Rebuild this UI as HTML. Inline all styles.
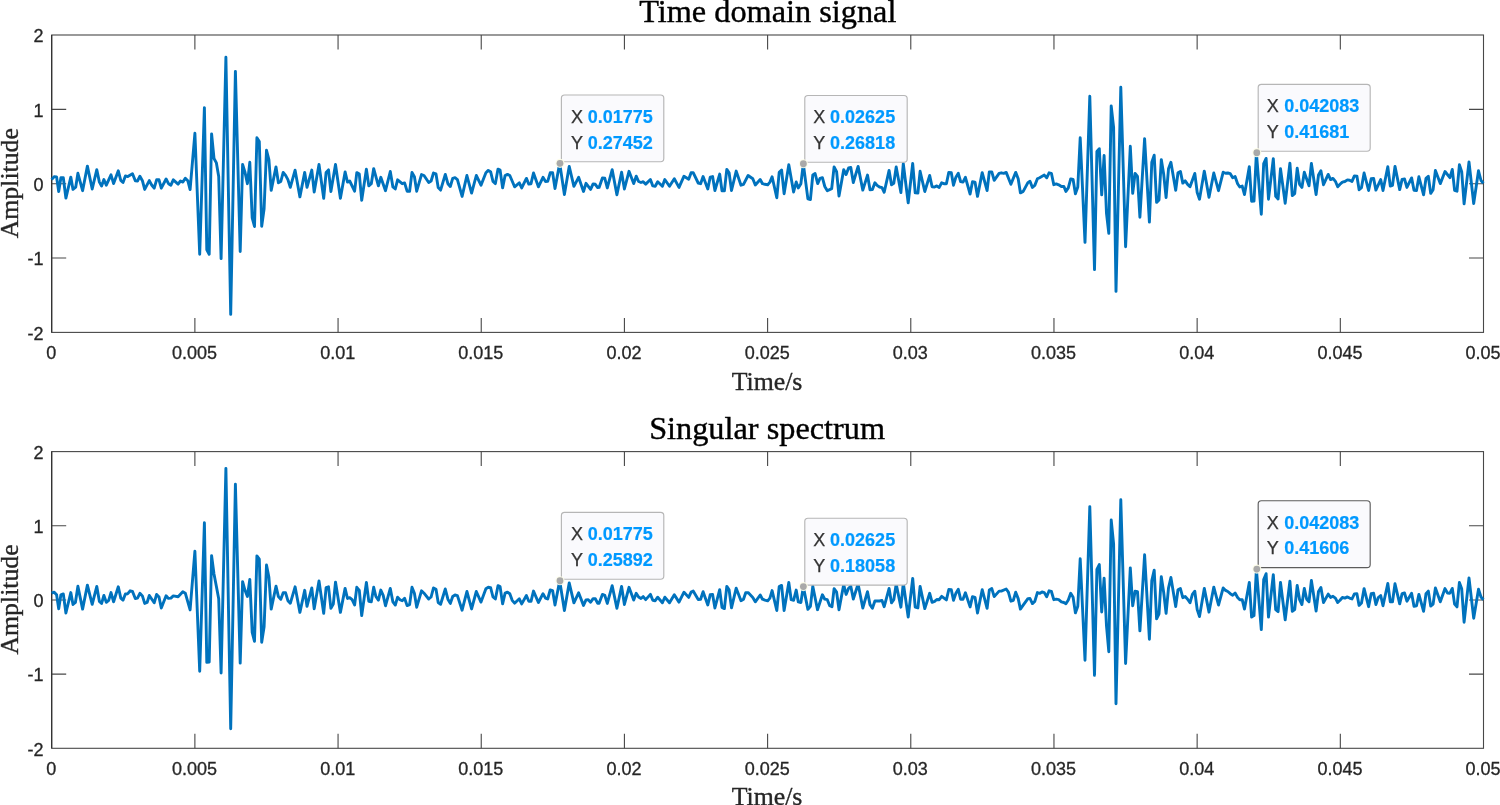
<!DOCTYPE html>
<html lang="en"><head><meta charset="utf-8"><title>Time domain signal / Singular spectrum</title>
<style>html,body{margin:0;padding:0;background:#fff;}body{width:1500px;height:805px;overflow:hidden;}svg{display:block;}.tk{font-family:"Liberation Sans",Arial,Helvetica,sans-serif;font-size:18px;fill:#262626;stroke:#262626;stroke-width:0.3px;}.lb{font-family:"Liberation Serif","Times New Roman",Times,serif;font-size:25.8px;fill:#262626;stroke:#262626;stroke-width:0.35px;}.tt{font-family:"Liberation Serif","Times New Roman",Times,serif;font-size:32.3px;fill:#000;stroke:#000;stroke-width:0.4px;}.dk{font-family:"Liberation Sans",Arial,Helvetica,sans-serif;font-size:18px;fill:#333;stroke:#333;stroke-width:0.25px;}.dv{font-family:"Liberation Sans",Arial,Helvetica,sans-serif;font-size:18px;fill:#0099ff;font-weight:bold;stroke:#0099ff;stroke-width:0.2px;}</style></head><body>
<svg width="1500" height="805" viewBox="0 0 1500 805">
<rect width="1500" height="805" fill="#fff"/>
<g id="axes1">
<rect x="51.70" y="35.00" width="1431.80" height="297.40" fill="none" stroke="#484848" stroke-width="1.1"/>
<path d="M194.88 332.40v-14.5M194.88 35.00v14.5M338.06 332.40v-14.5M338.06 35.00v14.5M481.24 332.40v-14.5M481.24 35.00v14.5M624.42 332.40v-14.5M624.42 35.00v14.5M767.60 332.40v-14.5M767.60 35.00v14.5M910.78 332.40v-14.5M910.78 35.00v14.5M1053.96 332.40v-14.5M1053.96 35.00v14.5M1197.14 332.40v-14.5M1197.14 35.00v14.5M1340.32 332.40v-14.5M1340.32 35.00v14.5M51.70 258.05h14.5M1483.50 258.05h-14.5M51.70 183.70h14.5M1483.50 183.70h-14.5M51.70 109.35h14.5M1483.50 109.35h-14.5" fill="none" stroke="#484848" stroke-width="1.1"/>
<path d="M51.70 35.00V332.40" fill="none" stroke="#2c2c2c" stroke-width="1.1"/>
<path d="M51.6 179.6 L54.2 176.6 L56.6 177.0 L58.7 191.5 L60.9 177.7 L63.3 177.7 L65.9 198.1 L70.8 177.1 L73.0 189.4 L75.7 187.2 L77.9 173.3 L82.6 190.7 L87.4 166.1 L92.2 189.0 L96.8 169.7 L99.4 182.1 L101.6 186.1 L103.9 179.5 L106.3 185.2 L111.0 174.8 L113.6 183.6 L118.3 170.8 L120.8 180.5 L123.0 182.5 L125.4 175.9 L127.8 176.6 L132.5 173.7 L135.3 180.8 L137.5 181.0 L139.9 176.2 L142.4 180.7 L144.7 189.4 L149.3 180.6 L151.7 185.0 L154.2 188.2 L156.6 179.8 L159.0 179.8 L161.3 188.2 L166.1 179.0 L168.5 183.7 L170.9 185.2 L173.3 179.8 L178.1 184.1 L180.5 181.0 L182.9 182.1 L185.3 178.2 L187.8 180.7 L190.1 189.6 L194.9 133.3 L199.7 254.3 L204.4 107.6 L206.8 249.8 L209.2 254.3 L211.6 133.9 L214.0 158.5 L216.4 162.9 L218.7 176.5 L221.1 258.6 L225.9 57.3 L230.7 314.4 L235.4 71.4 L240.2 251.5 L242.6 164.5 L245.0 172.2 L247.4 183.7 L249.8 162.3 L252.2 217.9 L254.5 226.5 L256.9 137.8 L259.3 141.5 L261.7 226.3 L264.1 208.8 L266.5 150.3 L268.9 159.6 L271.2 190.4 L276.0 166.9 L278.4 182.8 L280.8 181.5 L283.2 172.4 L285.6 175.4 L287.9 179.6 L290.3 187.3 L295.1 170.2 L299.9 196.9 L304.7 172.4 L307.0 187.3 L311.8 170.1 L314.2 192.0 L319.0 164.5 L323.7 198.3 L326.1 172.5 L328.5 169.9 L330.9 191.5 L335.5 164.5 L340.4 198.3 L345.1 171.9 L347.5 182.1 L349.7 181.0 L354.6 191.2 L356.8 172.6 L359.3 174.1 L361.7 200.3 L366.4 169.1 L368.8 185.8 L371.3 183.7 L373.7 168.6 L378.4 185.8 L380.8 177.3 L385.5 190.7 L390.3 171.5 L392.9 187.0 L395.3 189.0 L397.6 179.8 L402.2 183.7 L404.6 182.9 L407.1 191.2 L409.6 191.4 L412.0 172.4 L414.4 176.6 L416.7 191.2 L421.5 174.6 L424.0 175.5 L428.7 182.5 L431.1 181.0 L433.5 173.0 L436.0 173.9 L438.2 187.6 L440.6 190.1 L445.3 174.4 L447.9 183.7 L450.3 186.5 L452.7 178.3 L455.0 177.7 L457.4 179.6 L462.1 196.4 L466.9 175.5 L471.6 193.1 L476.3 175.5 L481.0 185.2 L485.9 172.8 L488.3 170.4 L490.6 171.7 L493.0 181.5 L495.4 183.6 L498.0 169.1 L500.1 170.1 L502.6 187.9 L505.1 175.5 L507.5 174.4 L509.8 175.5 L514.6 186.8 L519.3 182.8 L521.7 187.9 L526.4 178.4 L528.8 184.1 L531.0 183.7 L533.5 173.0 L538.4 186.8 L543.0 177.3 L545.5 181.5 L547.7 181.4 L550.2 172.8 L552.6 172.6 L555.0 188.5 L559.7 163.3 L564.4 194.5 L569.2 166.4 L573.9 186.3 L578.6 177.3 L583.5 191.5 L586.0 183.3 L590.6 189.4 L593.1 183.9 L595.3 184.3 L597.7 187.6 L599.1 187.4 L602.4 177.9 L604.8 178.3 L607.3 187.9 L612.2 169.7 L616.9 194.8 L621.6 172.2 L624.4 189.0 L629.0 171.3 L633.7 183.6 L636.2 176.2 L638.6 181.5 L641.0 182.5 L643.2 181.7 L645.7 184.1 L650.4 179.5 L652.8 185.9 L655.2 186.3 L657.7 181.7 L662.4 186.3 L664.8 179.5 L669.5 186.3 L674.3 178.8 L679.0 187.4 L684.0 176.2 L688.7 179.2 L691.1 172.8 L693.2 172.6 L698.2 183.0 L700.6 183.7 L703.1 176.6 L707.8 189.0 L710.2 177.2 L712.6 176.6 L714.9 190.5 L719.7 174.1 L722.0 190.8 L724.4 190.9 L726.8 169.4 L729.1 172.8 L731.5 190.5 L736.2 171.1 L741.0 185.2 L743.5 184.3 L748.1 175.5 L752.8 178.8 L755.3 185.0 L760.2 179.5 L762.5 183.7 L764.9 184.3 L767.7 184.8 L769.9 182.1 L772.1 176.8 L776.8 197.8 L779.2 172.3 L781.6 170.0 L784.1 193.7 L788.8 164.8 L793.6 192.0 L796.2 182.0 L798.3 187.9 L800.9 183.7 L803.3 163.8 L807.9 198.9 L810.4 199.6 L812.8 175.0 L815.1 173.5 L817.7 183.6 L820.0 178.4 L822.4 177.7 L824.8 186.5 L827.3 190.7 L831.7 188.6 L834.1 166.9 L836.6 171.7 L839.0 196.1 L843.7 169.7 L846.1 174.5 L848.6 167.9 L850.8 167.5 L853.3 182.5 L858.1 166.4 L862.8 190.1 L867.5 175.1 L870.0 189.7 L872.4 189.6 L874.9 182.8 L877.1 185.4 L879.5 187.0 L882.0 187.6 L884.2 192.3 L889.1 170.4 L891.5 184.7 L893.8 183.2 L896.2 166.9 L900.9 192.6 L903.3 163.7 L908.2 202.9 L912.7 163.5 L915.2 192.9 L917.9 193.0 L920.1 171.3 L924.8 191.5 L929.7 175.5 L932.1 186.8 L934.6 187.0 L936.8 185.9 L939.2 187.4 L941.7 182.8 L943.9 183.7 L946.4 183.7 L948.8 172.4 L951.3 172.8 L953.5 185.2 L955.9 177.2 L958.3 173.3 L960.6 181.5 L963.0 182.1 L965.4 177.3 L970.1 194.0 L972.5 181.7 L975.0 182.1 L977.5 196.4 L982.2 172.6 L987.1 190.5 L989.3 171.9 L991.8 171.9 L994.2 180.3 L999.1 173.3 L1001.3 172.8 L1003.7 173.3 L1006.2 172.4 L1010.9 184.3 L1015.7 172.4 L1018.2 178.8 L1020.4 192.9 L1023.2 191.4 L1027.9 182.6 L1030.0 181.2 L1032.4 187.4 L1034.8 185.4 L1037.4 178.8 L1039.6 177.7 L1044.3 175.1 L1046.7 177.8 L1049.1 172.8 L1051.4 173.3 L1053.8 184.7 L1056.3 183.9 L1058.7 184.8 L1061.4 186.5 L1063.9 186.5 L1065.9 191.4 L1068.3 187.9 L1070.7 178.9 L1073.1 179.5 L1075.4 193.7 L1077.8 186.9 L1080.2 137.8 L1085.0 242.4 L1089.8 96.3 L1094.5 269.6 L1096.9 151.4 L1099.3 148.7 L1101.7 194.8 L1104.1 155.5 L1106.5 213.4 L1108.8 233.4 L1111.2 105.9 L1113.6 127.3 L1116.0 291.4 L1120.8 87.3 L1125.6 246.7 L1130.3 146.2 L1132.7 193.4 L1135.1 173.4 L1137.5 176.5 L1139.9 217.2 L1144.6 138.7 L1149.4 222.1 L1151.8 162.3 L1154.2 155.2 L1156.6 202.4 L1159.0 200.0 L1161.3 159.6 L1163.7 174.3 L1166.1 197.5 L1168.5 168.8 L1170.9 162.3 L1175.7 190.2 L1178.0 172.7 L1180.4 171.4 L1182.8 183.1 L1185.2 180.9 L1187.6 184.4 L1190.0 186.7 L1194.8 173.4 L1197.2 192.5 L1199.5 199.2 L1204.3 171.1 L1209.0 197.2 L1213.8 173.0 L1218.5 190.7 L1223.2 172.2 L1225.6 173.3 L1227.8 173.0 L1230.3 173.7 L1232.7 177.7 L1235.1 176.6 L1237.6 183.7 L1239.8 187.0 L1242.2 186.1 L1244.5 194.5 L1249.3 166.7 L1251.6 201.2 L1254.0 201.1 L1256.4 152.7 L1261.3 214.2 L1263.7 163.5 L1266.1 158.4 L1268.5 199.2 L1273.3 158.7 L1275.7 196.3 L1278.1 198.9 L1280.5 168.6 L1285.2 203.2 L1289.9 163.1 L1292.3 195.6 L1294.7 193.6 L1297.2 168.3 L1299.6 184.3 L1301.9 187.4 L1304.3 172.2 L1309.0 185.8 L1311.4 163.5 L1316.1 194.5 L1318.5 175.0 L1320.9 170.8 L1323.5 184.7 L1328.2 174.4 L1330.6 179.6 L1333.0 178.4 L1335.4 181.3 L1337.7 186.8 L1340.0 184.3 L1342.4 182.1 L1344.9 181.5 L1347.4 179.9 L1349.6 180.2 L1352.0 181.4 L1354.4 175.9 L1356.9 176.1 L1359.1 189.8 L1361.5 187.6 L1364.1 173.0 L1368.6 190.5 L1371.2 178.8 L1373.6 178.4 L1375.9 190.1 L1380.7 179.5 L1383.0 190.5 L1387.8 166.7 L1390.3 186.1 L1392.5 185.4 L1395.0 166.4 L1399.7 189.6 L1402.1 179.4 L1404.5 179.0 L1406.9 187.4 L1411.6 177.9 L1414.0 190.3 L1416.5 190.5 L1418.9 176.8 L1423.6 194.8 L1426.0 178.3 L1428.3 176.2 L1430.7 193.4 L1433.1 189.7 L1435.4 170.4 L1440.3 183.6 L1445.0 171.5 L1449.9 177.6 L1452.3 169.4 L1454.6 190.3 L1457.0 191.2 L1459.4 164.8 L1461.7 171.7 L1464.1 203.8 L1469.0 162.0 L1473.7 203.6 L1478.5 170.8 L1481.0 180.5 L1483.4 183.2" fill="none" stroke="#0072bd" stroke-width="2.9" stroke-linejoin="round" stroke-linecap="butt"/>
<text class="tk" x="51.30" y="359.00" text-anchor="middle">0</text>
<text class="tk" x="194.48" y="359.00" text-anchor="middle">0.005</text>
<text class="tk" x="337.66" y="359.00" text-anchor="middle">0.01</text>
<text class="tk" x="480.84" y="359.00" text-anchor="middle">0.015</text>
<text class="tk" x="624.02" y="359.00" text-anchor="middle">0.02</text>
<text class="tk" x="767.20" y="359.00" text-anchor="middle">0.025</text>
<text class="tk" x="910.38" y="359.00" text-anchor="middle">0.03</text>
<text class="tk" x="1053.56" y="359.00" text-anchor="middle">0.035</text>
<text class="tk" x="1196.74" y="359.00" text-anchor="middle">0.04</text>
<text class="tk" x="1339.92" y="359.00" text-anchor="middle">0.045</text>
<text class="tk" x="1483.10" y="359.00" text-anchor="middle">0.05</text>
<text class="tk" x="43.60" y="339.70" text-anchor="end">-2</text>
<text class="tk" x="43.60" y="265.35" text-anchor="end">-1</text>
<text class="tk" x="43.60" y="191.00" text-anchor="end">0</text>
<text class="tk" x="43.60" y="116.65" text-anchor="end">1</text>
<text class="tk" x="43.60" y="42.30" text-anchor="end">2</text>
<text class="lb" x="767.00" y="389.90" text-anchor="middle">Time/s</text>
<text class="lb" transform="translate(18.1 183.20) rotate(-90)" text-anchor="middle">Amplitude</text>
<text class="tt" x="767.80" y="22.40" text-anchor="middle">Time domain signal</text>
</g>
<g id="axes2">
<rect x="51.70" y="451.60" width="1431.80" height="296.70" fill="none" stroke="#484848" stroke-width="1.1"/>
<path d="M194.88 748.30v-14.5M194.88 451.60v14.5M338.06 748.30v-14.5M338.06 451.60v14.5M481.24 748.30v-14.5M481.24 451.60v14.5M624.42 748.30v-14.5M624.42 451.60v14.5M767.60 748.30v-14.5M767.60 451.60v14.5M910.78 748.30v-14.5M910.78 451.60v14.5M1053.96 748.30v-14.5M1053.96 451.60v14.5M1197.14 748.30v-14.5M1197.14 451.60v14.5M1340.32 748.30v-14.5M1340.32 451.60v14.5M51.70 674.12h14.5M1483.50 674.12h-14.5M51.70 599.95h14.5M1483.50 599.95h-14.5M51.70 525.77h14.5M1483.50 525.77h-14.5" fill="none" stroke="#484848" stroke-width="1.1"/>
<path d="M51.70 451.60V748.30" fill="none" stroke="#2c2c2c" stroke-width="1.1"/>
<path d="M51.6 593.2 L54.2 592.2 L56.6 594.8 L58.7 608.9 L60.9 594.8 L63.3 593.9 L65.9 613.0 L70.8 592.6 L73.0 604.5 L75.4 602.5 L77.9 586.2 L82.6 609.1 L87.4 585.1 L92.2 604.3 L96.8 586.4 L99.4 601.4 L101.6 603.4 L103.9 595.5 L106.3 602.3 L108.7 600.3 L111.0 592.6 L113.6 601.8 L118.3 586.8 L120.8 598.1 L123.0 600.1 L125.4 594.0 L127.8 593.7 L130.1 590.8 L132.5 591.5 L135.3 598.5 L137.5 598.1 L139.9 593.3 L142.4 595.9 L144.7 603.4 L147.1 602.5 L149.3 595.5 L154.2 602.8 L156.6 594.4 L159.0 597.0 L161.3 608.0 L166.1 595.8 L168.5 598.4 L170.9 598.1 L173.3 595.9 L178.1 596.7 L182.8 591.7 L185.3 593.2 L190.1 609.9 L194.9 551.2 L199.7 671.3 L204.4 522.7 L206.8 662.4 L209.2 662.0 L211.6 555.6 L214.0 574.0 L216.4 586.6 L218.7 598.8 L221.1 673.0 L225.9 468.4 L230.7 728.7 L235.4 484.2 L240.2 663.1 L242.6 581.6 L245.0 590.3 L247.4 596.5 L249.8 579.4 L252.2 632.4 L254.5 641.3 L256.9 555.9 L259.3 559.2 L261.7 642.3 L264.1 626.9 L266.5 565.0 L268.9 577.3 L271.2 609.1 L276.0 586.2 L278.4 596.6 L280.8 599.3 L283.2 592.7 L285.6 592.8 L287.9 600.7 L290.3 603.3 L295.1 586.8 L299.9 612.4 L304.7 590.3 L307.0 606.4 L311.8 587.9 L314.2 608.8 L319.0 581.0 L323.7 613.4 L326.1 587.6 L328.5 586.8 L330.9 608.3 L333.3 604.1 L335.5 582.1 L340.4 612.4 L345.1 588.4 L347.5 598.5 L349.7 597.7 L352.1 599.7 L354.6 605.0 L356.8 587.3 L359.3 590.4 L361.7 615.6 L366.4 582.4 L368.8 601.4 L371.3 601.8 L373.7 587.3 L375.9 596.5 L378.4 600.1 L380.8 590.1 L383.2 595.4 L385.5 605.8 L390.3 588.4 L392.9 601.9 L395.3 605.0 L397.6 597.2 L400.0 599.7 L402.2 600.7 L404.6 598.3 L407.1 605.6 L409.6 604.6 L412.0 587.3 L414.4 593.2 L416.7 607.2 L421.5 590.8 L424.0 593.2 L428.7 599.0 L431.1 597.0 L433.5 587.9 L436.0 589.3 L438.2 602.5 L440.6 604.3 L445.3 589.0 L447.9 599.2 L450.3 603.4 L452.7 596.5 L455.0 595.0 L457.4 595.6 L459.8 603.0 L462.1 610.2 L466.9 591.5 L471.6 608.9 L476.3 591.5 L481.0 602.1 L485.9 588.8 L488.3 587.3 L490.6 587.7 L493.0 597.0 L495.4 599.0 L498.0 585.7 L500.1 586.6 L502.6 603.9 L505.1 593.2 L507.5 592.2 L509.8 593.7 L512.2 600.3 L514.6 603.2 L519.3 598.8 L521.7 603.9 L526.4 595.5 L528.8 601.2 L531.0 601.4 L533.5 591.1 L538.4 602.5 L543.0 593.7 L545.5 598.1 L547.7 599.0 L550.2 589.9 L552.6 590.6 L555.0 605.0 L559.7 580.7 L564.4 610.5 L569.2 582.9 L573.9 602.8 L578.6 592.8 L583.5 605.4 L586.0 599.9 L588.2 599.7 L590.6 602.3 L593.1 598.6 L595.3 598.8 L597.7 603.2 L599.1 603.2 L602.4 594.4 L604.8 595.4 L607.3 603.4 L612.2 585.7 L616.9 608.3 L621.6 586.4 L624.4 604.5 L629.0 587.3 L633.7 600.1 L636.2 593.3 L638.6 597.0 L641.0 598.5 L643.2 596.6 L645.7 599.6 L650.4 594.4 L652.8 600.3 L655.2 600.7 L657.7 597.2 L662.4 602.8 L664.8 597.2 L669.5 602.8 L674.3 594.8 L679.0 602.1 L684.0 592.2 L688.7 597.4 L691.1 592.1 L693.2 591.1 L698.2 599.6 L700.6 599.2 L703.1 591.7 L707.8 605.0 L710.2 594.8 L712.6 594.4 L714.9 608.0 L719.7 589.7 L722.0 607.4 L724.4 608.6 L726.8 586.4 L729.1 589.9 L731.5 607.8 L736.2 588.2 L741.0 600.7 L743.5 599.2 L745.7 592.8 L748.1 592.6 L752.8 597.5 L755.3 601.8 L760.2 595.0 L762.5 599.2 L764.9 600.1 L767.7 600.8 L769.9 598.1 L772.1 590.6 L776.8 610.5 L779.2 586.6 L781.6 585.4 L784.1 610.5 L788.8 582.4 L791.2 599.7 L793.6 600.3 L796.2 590.1 L798.3 601.9 L800.9 602.5 L803.3 586.6 L807.9 609.4 L810.4 606.3 L812.8 586.2 L817.5 609.7 L822.4 594.8 L824.8 599.2 L827.3 599.7 L829.7 605.7 L832.0 606.7 L834.1 588.6 L836.6 592.1 L839.0 609.7 L843.7 584.6 L846.1 594.4 L848.6 588.3 L850.8 586.2 L853.3 599.0 L858.1 584.0 L862.8 608.0 L867.5 591.7 L870.0 604.6 L872.4 608.3 L874.9 601.0 L877.1 601.0 L879.5 601.0 L882.0 600.4 L884.2 606.7 L889.1 588.4 L891.5 602.8 L893.8 599.7 L896.2 584.0 L900.9 607.2 L903.3 582.9 L908.2 617.1 L912.7 578.4 L915.2 607.2 L917.9 607.9 L920.1 586.4 L924.8 608.6 L929.7 593.3 L932.1 602.3 L934.6 601.4 L936.8 599.5 L939.2 599.7 L941.7 596.3 L946.4 599.9 L948.8 589.5 L951.3 589.7 L953.5 600.3 L955.9 593.2 L958.3 589.3 L960.6 599.2 L963.0 599.2 L965.4 592.8 L970.1 606.9 L972.5 596.6 L975.0 597.3 L977.5 613.0 L982.2 589.7 L987.1 608.3 L989.3 590.1 L991.8 588.6 L994.2 596.6 L999.1 591.1 L1001.3 591.1 L1006.2 589.0 L1008.4 592.1 L1010.9 601.2 L1013.3 600.3 L1015.7 592.2 L1018.2 598.6 L1020.4 609.1 L1023.2 605.2 L1027.9 598.6 L1030.0 598.5 L1032.4 603.6 L1034.8 601.4 L1037.4 592.6 L1039.6 593.4 L1042.0 591.9 L1044.3 592.6 L1046.7 596.8 L1049.1 590.8 L1051.4 591.5 L1053.8 599.7 L1056.3 599.2 L1058.7 599.7 L1061.4 601.9 L1063.9 602.5 L1065.9 603.7 L1068.3 600.0 L1070.7 593.3 L1073.1 597.3 L1075.4 612.9 L1077.8 606.2 L1080.2 558.8 L1085.0 660.2 L1089.8 506.6 L1094.5 675.4 L1096.9 569.5 L1099.3 564.6 L1101.7 612.0 L1104.1 578.1 L1106.5 625.9 L1108.8 651.7 L1111.2 520.0 L1113.6 543.9 L1116.0 703.8 L1120.8 499.8 L1125.6 663.5 L1130.3 567.9 L1132.7 605.8 L1135.1 591.2 L1137.5 591.7 L1139.9 630.9 L1144.6 554.8 L1149.4 639.2 L1151.8 580.5 L1154.2 570.1 L1156.6 618.9 L1159.0 613.8 L1161.3 576.7 L1163.7 592.5 L1166.1 613.4 L1168.5 588.1 L1170.9 577.5 L1175.7 606.6 L1178.0 589.8 L1180.4 588.5 L1182.8 597.7 L1185.2 596.5 L1187.6 599.2 L1190.0 602.8 L1192.4 594.4 L1194.8 591.2 L1197.2 609.6 L1199.5 616.5 L1204.3 588.4 L1209.0 612.1 L1213.8 587.1 L1218.5 605.0 L1223.2 587.9 L1225.6 590.4 L1227.8 591.5 L1230.3 593.7 L1232.7 595.2 L1235.1 593.0 L1237.6 597.5 L1239.8 599.7 L1242.2 599.7 L1244.5 609.1 L1249.3 582.4 L1251.6 617.1 L1254.0 615.6 L1256.4 569.1 L1261.3 629.6 L1263.7 579.5 L1266.1 573.7 L1268.5 617.1 L1273.3 574.7 L1275.7 609.6 L1278.1 611.6 L1280.5 582.4 L1285.2 619.8 L1289.9 581.3 L1292.3 611.3 L1294.7 609.6 L1297.2 585.4 L1299.6 599.7 L1301.9 604.5 L1304.3 588.4 L1306.7 599.2 L1309.0 601.8 L1311.4 580.5 L1316.1 611.0 L1318.5 591.5 L1320.9 587.5 L1323.5 602.5 L1328.2 594.1 L1330.6 597.4 L1333.0 596.3 L1335.4 598.1 L1337.7 602.5 L1340.0 600.3 L1342.4 597.5 L1344.9 598.1 L1347.4 596.9 L1349.6 598.1 L1352.0 599.0 L1354.4 593.9 L1356.9 593.7 L1359.1 605.4 L1361.5 603.0 L1364.1 588.6 L1368.6 606.7 L1371.2 593.7 L1373.6 593.3 L1375.9 604.5 L1378.3 597.5 L1380.7 595.5 L1383.0 605.8 L1387.8 583.5 L1390.3 601.9 L1392.5 601.8 L1395.0 583.8 L1399.7 603.9 L1402.1 593.7 L1404.5 593.0 L1406.9 601.2 L1411.6 593.3 L1414.0 606.3 L1416.5 605.8 L1418.9 594.4 L1423.6 611.3 L1426.0 593.7 L1428.3 591.1 L1430.7 606.1 L1433.1 604.1 L1435.4 587.9 L1440.3 601.8 L1445.0 588.6 L1447.5 593.0 L1449.9 593.2 L1452.3 588.4 L1454.6 604.1 L1457.0 606.9 L1459.4 582.4 L1461.7 588.8 L1464.1 622.2 L1469.0 578.0 L1473.7 618.2 L1478.5 589.3 L1481.0 597.0 L1483.4 599.7" fill="none" stroke="#0072bd" stroke-width="2.9" stroke-linejoin="round" stroke-linecap="butt"/>
<text class="tk" x="51.30" y="774.90" text-anchor="middle">0</text>
<text class="tk" x="194.48" y="774.90" text-anchor="middle">0.005</text>
<text class="tk" x="337.66" y="774.90" text-anchor="middle">0.01</text>
<text class="tk" x="480.84" y="774.90" text-anchor="middle">0.015</text>
<text class="tk" x="624.02" y="774.90" text-anchor="middle">0.02</text>
<text class="tk" x="767.20" y="774.90" text-anchor="middle">0.025</text>
<text class="tk" x="910.38" y="774.90" text-anchor="middle">0.03</text>
<text class="tk" x="1053.56" y="774.90" text-anchor="middle">0.035</text>
<text class="tk" x="1196.74" y="774.90" text-anchor="middle">0.04</text>
<text class="tk" x="1339.92" y="774.90" text-anchor="middle">0.045</text>
<text class="tk" x="1483.10" y="774.90" text-anchor="middle">0.05</text>
<text class="tk" x="43.60" y="755.60" text-anchor="end">-2</text>
<text class="tk" x="43.60" y="681.42" text-anchor="end">-1</text>
<text class="tk" x="43.60" y="607.25" text-anchor="end">0</text>
<text class="tk" x="43.60" y="533.07" text-anchor="end">1</text>
<text class="tk" x="43.60" y="458.90" text-anchor="end">2</text>
<text class="lb" x="767.00" y="805.30" text-anchor="middle">Time/s</text>
<text class="lb" transform="translate(18.1 599.45) rotate(-90)" text-anchor="middle">Amplitude</text>
<text class="tt" x="767.10" y="439.10" text-anchor="middle">Singular spectrum</text>
</g>
<g>
<path d="M561.39 161.79V98.19Q561.39 94.99 564.59 94.99H660.59Q663.79 94.99 663.79 98.19V158.59Q663.79 161.79 660.59 161.79Z" fill="#fafafd" stroke="#b6b6b6" stroke-width="1.15"/>
<circle cx="559.99" cy="163.29" r="4.6" fill="#fdfde8" opacity="0.9"/>
<circle cx="559.99" cy="163.29" r="3.4" fill="#a9a9a9"/>
<text class="dk" x="570.89" y="122.89">X</text><text class="dv" x="587.79" y="122.89">0.01775</text>
<text class="dk" x="570.89" y="148.69">Y</text><text class="dv" x="587.79" y="148.69">0.27452</text>
</g>
<g>
<path d="M804.79 162.26V98.66Q804.79 95.46 808.00 95.46H903.99Q907.19 95.46 907.19 98.66V159.06Q907.19 162.26 903.99 162.26Z" fill="#fafafd" stroke="#b6b6b6" stroke-width="1.15"/>
<circle cx="803.39" cy="163.76" r="4.6" fill="#fdfde8" opacity="0.9"/>
<circle cx="803.39" cy="163.76" r="3.4" fill="#a9a9a9"/>
<text class="dk" x="813.19" y="123.36">X</text><text class="dv" x="830.09" y="123.36">0.02625</text>
<text class="dk" x="813.19" y="149.16">Y</text><text class="dv" x="830.09" y="149.16">0.26818</text>
</g>
<g>
<path d="M1258.19 151.21V87.61Q1258.19 84.41 1261.39 84.41H1366.99Q1370.19 84.41 1370.19 87.61V148.01Q1370.19 151.21 1366.99 151.21Z" fill="#fafafd" stroke="#b6b6b6" stroke-width="1.15"/>
<circle cx="1256.79" cy="152.71" r="4.6" fill="#fdfde8" opacity="0.9"/>
<circle cx="1256.79" cy="152.71" r="3.4" fill="#a9a9a9"/>
<text class="dk" x="1266.69" y="112.31">X</text><text class="dv" x="1284.29" y="112.31">0.042083</text>
<text class="dk" x="1266.69" y="138.11">Y</text><text class="dv" x="1284.29" y="138.11">0.41681</text>
</g>
<g>
<path d="M561.39 579.24V515.64Q561.39 512.44 564.59 512.44H660.59Q663.79 512.44 663.79 515.64V576.04Q663.79 579.24 660.59 579.24Z" fill="#fafafd" stroke="#b6b6b6" stroke-width="1.15"/>
<circle cx="559.99" cy="580.74" r="4.6" fill="#fdfde8" opacity="0.9"/>
<circle cx="559.99" cy="580.74" r="3.4" fill="#a9a9a9"/>
<text class="dk" x="570.89" y="540.34">X</text><text class="dv" x="587.79" y="540.34">0.01775</text>
<text class="dk" x="570.89" y="566.14">Y</text><text class="dv" x="587.79" y="566.14">0.25892</text>
</g>
<g>
<path d="M804.79 585.06V521.46Q804.79 518.26 808.00 518.26H903.99Q907.19 518.26 907.19 521.46V581.86Q907.19 585.06 903.99 585.06Z" fill="#fafafd" stroke="#b6b6b6" stroke-width="1.15"/>
<circle cx="803.39" cy="586.56" r="4.6" fill="#fdfde8" opacity="0.9"/>
<circle cx="803.39" cy="586.56" r="3.4" fill="#a9a9a9"/>
<text class="dk" x="813.19" y="546.16">X</text><text class="dv" x="830.09" y="546.16">0.02625</text>
<text class="dk" x="813.19" y="571.96">Y</text><text class="dv" x="830.09" y="571.96">0.18058</text>
</g>
<g>
<path d="M1258.19 567.59V503.99Q1258.19 500.79 1261.39 500.79H1366.99Q1370.19 500.79 1370.19 503.99V564.39Q1370.19 567.59 1366.99 567.59Z" fill="#fafafd" stroke="#5c5c5c" stroke-width="1.15"/>
<circle cx="1256.79" cy="569.09" r="4.6" fill="#fdfde8" opacity="0.9"/>
<circle cx="1256.79" cy="569.09" r="3.4" fill="#a9a9a9"/>
<text class="dk" x="1266.69" y="528.69">X</text><text class="dv" x="1284.29" y="528.69">0.042083</text>
<text class="dk" x="1266.69" y="554.49">Y</text><text class="dv" x="1284.29" y="554.49">0.41606</text>
</g>
</svg></body></html>
